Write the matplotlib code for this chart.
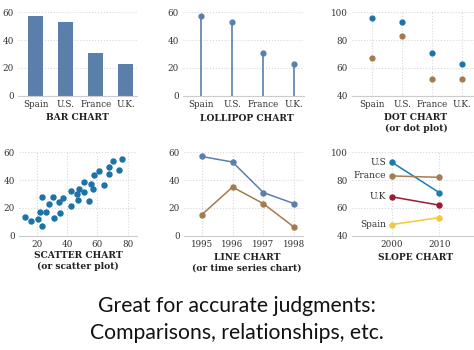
import numpy as np
import matplotlib
matplotlib.use("Agg")
import matplotlib.pyplot as plt

countries = ["Spain", "U.S.", "France", "U.K."]
share = [57, 53, 31, 23]

dot_blue = [96, 93, 71, 63]
dot_brown = [67, 83, 52, 52]

scatter_x = [12.4, 16.7, 21.1, 22.0, 23.9, 23.9, 26.1, 28.5, 30.9, 31.5, 35.0,
             35.4, 37.2, 42.4, 42.4, 46.5, 47.0, 48.0, 51.0, 51.0, 54.3, 56.0,
             57.0, 57.6, 61.1, 64.3, 67.4, 67.4, 70.2, 74.1, 76.1]
scatter_y = [13.4, 10.3, 11.8, 17.0, 27.8, 7.2, 17.0, 22.5, 27.8, 12.7, 24.2,
             16.0, 27.3, 21.3, 32.4, 30.2, 25.4, 33.8, 31.2, 38.8, 25.0, 37.4,
             33.3, 43.4, 46.3, 36.4, 44.4, 49.4, 53.7, 47.2, 55.2]

years = [1995, 1996, 1997, 1998]
line_blue = [57, 53, 31, 23]
line_brown = [15, 35, 23, 6]

slope_years = [2000, 2010]
slope_names = ["U.S", "France", "U.K", "Spain"]
slope_vals = [[93, 71], [83, 82], [68, 62], [48, 53]]
slope_colors = ["#1b7bb0", "#a87c52", "#9c1c35", "#f0c93c"]

W, H = 474, 350
SERIF = "DejaVu Serif"
TXT = "#333333"
GRID = "#d8d8d8"
STEEL = "#5b7fab"
TEAL = "#1d73a6"
BROWN = "#a47a4e"

fig = plt.figure(figsize=(W / 100, H / 100), dpi=100)


def make_ax(x0, x1, y0, y1):
    # pixel box -> figure fraction
    ax = fig.add_axes([x0 / W, 1 - y1 / H, (x1 - x0) / W, (y1 - y0) / H])
    for s in ["top", "right", "left"]:
        ax.spines[s].set_visible(False)
    ax.spines["bottom"].set_color("#cccccc")
    ax.spines["bottom"].set_linewidth(0.8)
    ax.tick_params(length=0, labelsize=6.3, colors=TXT, pad=3)
    ax.set_axisbelow(True)
    return ax


def style_ticks(ax):
    for lab in ax.get_xticklabels() + ax.get_yticklabels():
        lab.set_family(SERIF)
        lab.set_color(TXT)


def title(x, y, s, size=6.6):
    fig.text(x / W, 1 - y / H, s, ha="center", va="center", family=SERIF,
             fontweight="bold", fontsize=size, color="#222222")


# bar chart
ax = make_ax(18, 137, 12.3, 95.7)
ax.bar(range(4), share, width=0.5, color=STEEL)
ax.set_xlim(-0.6, 3.37)
ax.set_ylim(0, 60)
ax.set_yticks([0, 20, 40, 60])
ax.set_xticks(range(4))
ax.set_xticklabels(countries)
ax.yaxis.grid(True, linestyle=":", color=GRID, linewidth=0.8)
style_ticks(ax)
title(77, 117, "BAR CHART")

# lollipop
ax = make_ax(183, 304, 12.3, 95.7)
ax.vlines(range(4), 0, share, color=STEEL, linewidth=1.2)
ax.scatter(range(4), share, s=12, color=STEEL, zorder=3)
ax.set_xlim(-0.59, 3.33)
ax.set_ylim(0, 60)
ax.set_yticks([0, 20, 40, 60])
ax.set_xticks(range(4))
ax.set_xticklabels(countries)
ax.yaxis.grid(True, linestyle=":", color=GRID, linewidth=0.8)
style_ticks(ax)
title(247, 118, "LOLLIPOP CHART")

# dot chart
ax = make_ax(352, 474, 12.3, 95.7)
ax.scatter(range(4), dot_blue, s=12, color=TEAL, zorder=3)
ax.scatter(range(4), dot_brown, s=12, color=BROWN, zorder=3)
ax.set_xlim(-0.68, 3.4)
ax.set_ylim(40, 100)
ax.set_yticks([40, 60, 80, 100])
ax.set_xticks(range(4))
ax.set_xticklabels(countries)
ax.grid(True, linestyle=":", color=GRID, linewidth=0.8)
style_ticks(ax)
title(416, 117, "DOT CHART")
title(416, 128, "(or dot plot)")

# scatter
ax = make_ax(19, 137, 152.3, 235.7)
ax.scatter(scatter_x, scatter_y, s=13, color=TEAL, zorder=3)
ax.set_xlim(8.5, 86)
ax.set_ylim(0, 60)
ax.set_yticks([0, 20, 40, 60])
ax.set_xticks([20, 40, 60, 80])
ax.grid(True, linestyle=":", color=GRID, linewidth=0.8)
style_ticks(ax)
title(78, 255, "SCATTER CHART")
title(78, 266, "(or scatter plot)")

# line chart
ax = make_ax(184, 303, 152.3, 235.7)
ax.plot(years, line_blue, color=STEEL, marker="o", markersize=3.6, linewidth=1.1)
ax.plot(years, line_brown, color=BROWN, marker="o", markersize=3.6, linewidth=1.1)
ax.set_xlim(1994.43, 1998.28)
ax.set_ylim(0, 60)
ax.set_yticks([0, 20, 40, 60])
ax.set_xticks(years)
ax.grid(True, linestyle=":", color=GRID, linewidth=0.8)
style_ticks(ax)
title(247, 257, "LINE CHART")
title(247, 268, "(or time series chart)")

# slope chart
ax = make_ax(352, 474, 152.3, 235.7)
for name, vals, c in zip(slope_names, slope_vals, slope_colors):
    ax.plot(slope_years, vals, color=c, marker="o", markersize=3.6, linewidth=1.1)
    ax.annotate(name, (slope_years[0], vals[0]), xytext=(-4, 0),
                textcoords="offset points", ha="right", va="center",
                family=SERIF, fontsize=6.5, color=TXT)
ax.set_xlim(1991.7, 2017.3)
ax.set_ylim(40, 100)
ax.set_yticks([40, 60, 80, 100])
ax.set_xticks(slope_years)
ax.grid(True, linestyle=":", color=GRID, linewidth=0.8)
style_ticks(ax)
title(416, 257, "SLOPE CHART")

# caption
fig.text(0.5, 1 - 306 / H, "Great for accurate judgments:", ha="center",
         va="center", family="Lato", fontsize=15.2, color="#111111")
fig.text(0.5, 1 - 333 / H, "Comparisons, relationships, etc.", ha="center",
         va="center", family="Lato", fontsize=15.2, color="#111111")

fig.savefig("out.png", dpi=100)
